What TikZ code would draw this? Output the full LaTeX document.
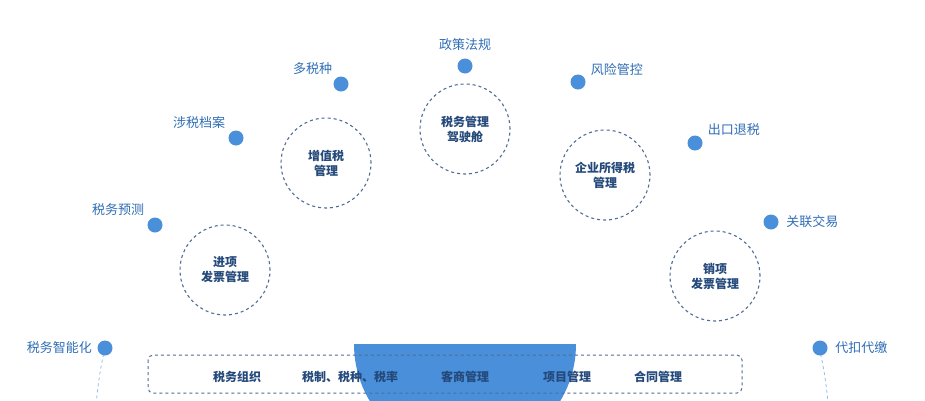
\documentclass[tikz,border=0pt]{standalone}
\usepackage{fontspec}
\setmainfont{Noto Sans CJK SC}
\usetikzlibrary{positioning}
\tikzset{every picture/.style={line width=0.75pt}}
\definecolor{tblue}{HTML}{4A8FDA}
\definecolor{ttext}{HTML}{2F6DB5}
\definecolor{tdark}{HTML}{24497A}
\tikzset{
  dot/.style={circle,fill=tblue,inner sep=0pt,minimum size=15pt},
  lbl/.style={font=\fontsize{13}{15}\selectfont,text=ttext,inner sep=1pt},
  ring/.style={circle,draw=tdark!80,dashed,line width=1.1pt,minimum size=90pt,align=center,
    font=\bfseries\fontsize{12}{15}\selectfont,text=tdark},
  item/.style={font=\bfseries\fontsize{12}{14}\selectfont,text=tdark}
}
\begin{document}
\begin{tikzpicture}[x=1pt,y=-1pt]
\useasboundingbox (0,0) rectangle (925,400);

% outer arc
\draw [tblue!60,dashed,line width=0.8pt] (105,348) arc[start angle=193.3,end angle=-13.2,radius=367];

% dots and labels
\node[dot] (d1) at (105,348) {};
\node[dot] (d2) at (155,225) {};
\node[dot] (d3) at (236,138) {};
\node[dot] (d4) at (341,84) {};
\node[dot] (d5) at (465,66) {};
\node[dot] (d6) at (578,82) {};
\node[dot] (d7) at (695,143) {};
\node[dot] (d8) at (771,222) {};
\node[dot] (d9) at (820,348) {};
\node[lbl,left=4pt of d1] (l1) {税务智能化};
\node[lbl,above left=2pt and 4pt of d2] (l2) {税务预测};
\node[lbl,above left=2pt and 4pt of d3] (l3) {涉税档案};
\node[lbl,above left=2pt and 2pt of d4] (l4) {多税种};
\node[lbl,above=6pt of d5] (l5) {政策法规};
\node[lbl,above right=0pt and 6pt of d6] (l6) {风险管控};
\node[lbl,above right=0pt and 6pt of d7] (l7) {出口退税};
\node[lbl,right=6pt of d8] (l8) {关联交易};
\node[lbl,right=6pt of d9] (l9) {代扣代缴};

% centre half disc
\fill [tblue] (354,344) arc[start angle=180,end angle=0,radius=111] -- cycle;
\node[text=white,font=\bfseries\fontsize{26}{30}\selectfont] (main) at (465,292) {税务管理};

% dashed rings
\node[ring] (r1) at (225,270) {进项\\发票管理};
\node[ring] (r2) at (326,163) {增值税\\管理};
\node[ring] (r3) at (465,129) {税务管理\\驾驶舱};
\node[ring] (r4) at (605,175) {企业所得税\\管理};
\node[ring] (r5) at (715,276) {销项\\发票管理};

% bottom box
\draw [tdark!80,dashed,line width=1pt,rounded corners=5pt] (148,355) rectangle (742,393);
\node[item] (b1) at (237,377) {税务组织};
\node[item] (b2) at (350,377) {税制、税种、税率};
\node[item] (b3) at (465,377) {客商管理};
\node[item] (b4) at (567,377) {项目管理};
\node[item] (b5) at (658,377) {合同管理};
\end{tikzpicture}
\end{document}
